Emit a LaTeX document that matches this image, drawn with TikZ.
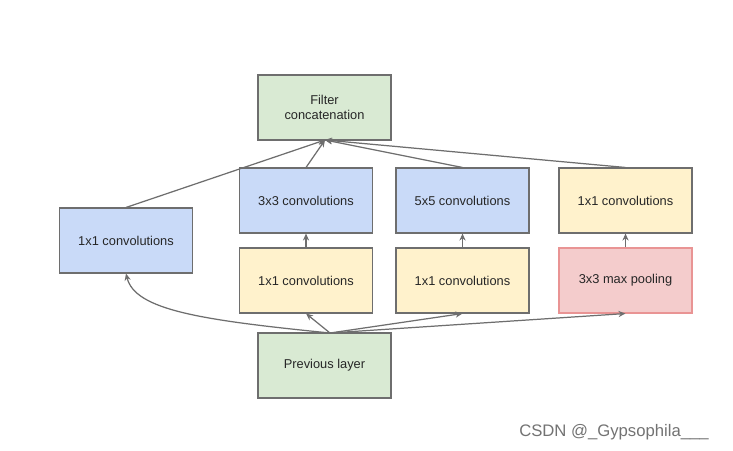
\documentclass[tikz,border=0pt]{standalone}
\usepackage{fontspec}
\setmainfont{Liberation Sans}
\usetikzlibrary{arrows.meta}
\definecolor{gfill}{HTML}{D9EAD3}
\definecolor{bfill}{HTML}{C9DAF8}
\definecolor{yfill}{HTML}{FFF2CC}
\definecolor{rfill}{HTML}{F4CCCC}
\definecolor{rdraw}{HTML}{E06666}
\definecolor{edge}{HTML}{6E6E6E}
\begin{document}
\begin{tikzpicture}[x=0.02cm,y=-0.02cm,
  box/.style={draw=edge,line width=0.6pt,minimum width=133*0.02cm,minimum height=65*0.02cm,inner sep=0pt,align=center,font=\fontsize{7.3}{9}\selectfont,text=black!85},
  g/.style={box,fill=gfill},b/.style={box,fill=bfill},yl/.style={box,fill=yfill},
  r/.style={box,fill=rfill,draw=rdraw!70},
  arr/.style={draw=edge,line width=0.7pt,-{Stealth[length=4pt,width=3.5pt]}}]
\useasboundingbox[fill=white] (0,0) rectangle (733,450);
\node[g] (fc) at (324.5,107.5) {Filter\\concatenation};
\node[b] (l1) at (126,240.5) {1x1 convolutions};
\node[b] (c3) at (306,200.5) {3x3 convolutions};
\node[b] (c5) at (462.5,200.5) {5x5 convolutions};
\node[yl] (r1) at (625.5,200.5) {1x1 convolutions};
\node[yl] (m3) at (306,280.5) {1x1 convolutions};
\node[yl] (m5) at (462.5,280.5) {1x1 convolutions};
\node[r] (mp) at (625.5,280.5) {3x3 max pooling};
\node[g] (pl) at (324.5,365.5) {Previous layer};
\coordinate (pt) at (330,333);
\coordinate (ft) at (325,140);
\draw[arr] (pt) .. controls (200,320) and (135,310) .. (l1.south);
\draw[arr] (pt) -- (m3.south);
\draw[arr] (pt) -- (m5.south);
\draw[arr] (pt) -- (mp.south);
\draw[arr] (m3) -- (c3);
\draw[arr] (m5) -- (c5);
\draw[arr] (mp) -- (r1);
\draw[arr] (l1.north) -- (ft);
\draw[arr] (c3.north) -- (ft);
\draw[arr] (c5.north) -- (ft);
\draw[arr] (r1.north) -- (ft);
\node[font=\fontsize{9.5}{11}\selectfont,text=black!55] (wm) at (614,432) {CSDN @\_Gypsophila\_\_\_};
\end{tikzpicture}
\end{document}
